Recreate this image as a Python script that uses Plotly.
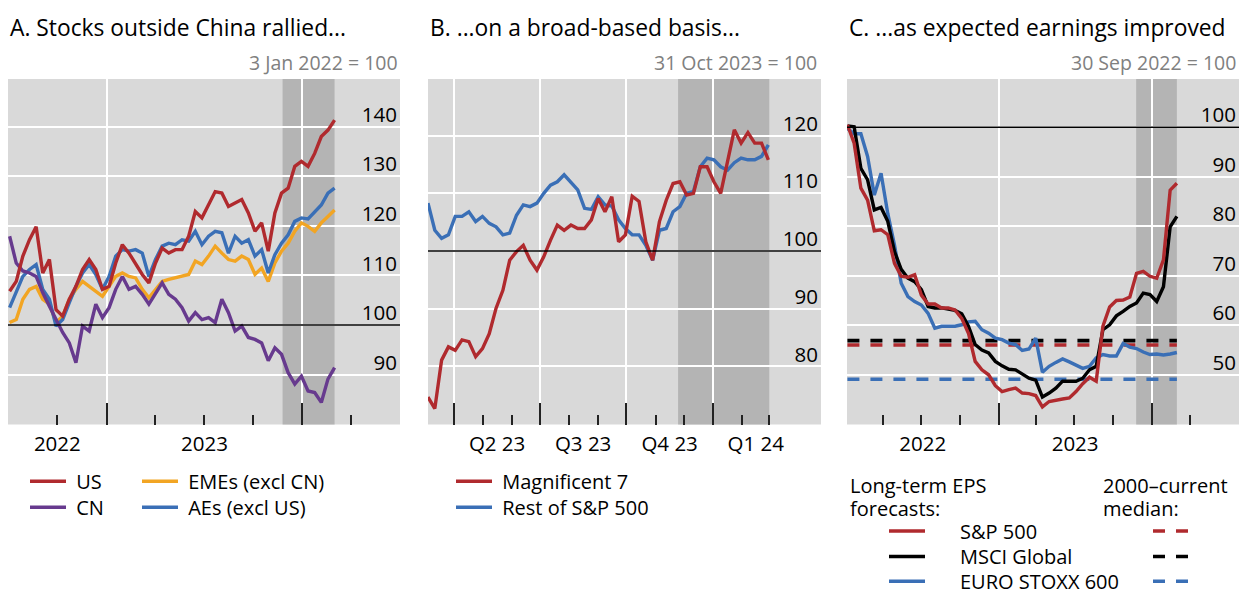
import pandas as pd
import plotly.graph_objects as go

FONT = "Open Sans, Noto Sans, DejaVu Sans, sans-serif"
W, H = 1239, 592

# ---------------- Panel A: equity indices, 3 Jan 2022 = 100 ----------------
A_RANGE = ["2022-07-01", "2024-07-01"]
A_START, A_END = "2022-07-04", "2024-03-01"
A_US = [106.8, 108.8, 113.9, 117.2, 119.8, 110.5, 113.2, 103.1, 101.8, 105.2,
        107.8, 111.2, 113.2, 111.2, 107.2, 107.8, 112.5, 116.2, 114.5, 112.2,
        110.2, 108.5, 112.5, 115.5, 114.5, 115.2, 115.2, 117.9, 122.9, 121.6,
        124.2, 126.9, 126.6, 123.9, 124.6, 125.3, 122.6, 118.9, 120.6, 114.9,
        122.6, 126.6, 127.6, 132.0, 133.0, 132.0, 134.6, 138.0, 139.3, 141.3]
A_CN = [117.9, 112.5, 110.9, 110.5, 109.8, 106.5, 103.8, 101.1, 98.5, 96.4,
        92.4, 99.8, 98.8, 104.2, 101.5, 103.5, 107.2, 109.8, 107.2, 107.8,
        106.2, 104.2, 106.5, 108.5, 106.2, 105.2, 103.5, 100.8, 102.5, 101.1,
        101.5, 100.5, 105.2, 102.5, 98.8, 99.8, 97.5, 97.1, 96.4, 92.8,
        95.4, 94.1, 90.4, 88.1, 89.7, 86.7, 86.4, 84.4, 89.1, 91.4]
A_EME = [100.5, 101.1, 105.2, 107.2, 107.8, 105.2, 104.2, 100.5, 101.8, 105.2,
         107.2, 108.8, 107.8, 106.8, 105.8, 107.8, 109.8, 110.5, 109.8, 109.5,
         107.2, 105.5, 107.2, 108.8, 109.2, 109.5, 109.8, 110.2, 112.9, 112.2,
         113.9, 115.9, 114.5, 113.2, 112.9, 113.9, 113.2, 110.2, 111.5, 108.8,
         112.5, 114.9, 116.5, 118.9, 120.6, 119.9, 118.9, 120.6, 121.9, 123.2]
A_AE = [103.5, 106.8, 109.8, 111.2, 112.2, 107.2, 105.2, 99.8, 101.1, 104.5,
        107.8, 110.5, 112.2, 110.2, 107.2, 109.8, 113.9, 115.2, 114.9, 115.2,
        114.5, 109.8, 113.2, 115.9, 116.5, 116.2, 117.2, 116.9, 118.9, 116.2,
        117.9, 118.9, 118.6, 114.5, 117.9, 116.5, 117.2, 113.9, 115.2, 110.5,
        114.2, 116.5, 118.2, 120.9, 121.6, 121.4, 122.9, 124.2, 126.6, 127.6]
A_MAJOR = ["2023-01-01", "2024-01-01"]
A_MINOR = ["2022-07-01", "2022-10-01", "2023-04-01", "2023-07-01", "2023-10-01", "2024-04-01"]
A_LABELS = ["2022", "2023"]
A_YTICKS = [80, 90, 100, 110, 120, 130, 140]

# ---------------- Panel B: 31 Oct 2023 = 100 ----------------
B_RANGE = ["2023-03-04", "2024-04-25"]
B_START, B_END = "2023-03-04", "2024-02-29"
B_MAG7 = [74.7, 72.7, 81.1, 83.4, 82.8, 84.6, 84.3, 81.7, 83.1, 85.7,
          90.1, 93.2, 98.4, 99.9, 101.0, 98.4, 96.7, 99.0, 101.9, 104.5,
          103.6, 104.5, 103.9, 103.9, 105.4, 109.1, 106.8, 109.4, 101.6, 102.8,
          109.5, 108.6, 101.6, 98.4, 105.1, 108.8, 111.7, 112.0, 109.7, 110.0,
          114.6, 114.6, 112.0, 110.0, 115.5, 121.0, 118.7, 120.5, 118.7, 118.7,
          115.8]
B_REST = [108.3, 103.6, 102.2, 102.8, 106.0, 106.0, 106.8, 105.1, 106.0, 104.8,
          104.2, 102.8, 103.1, 106.2, 108.0, 107.7, 108.3, 110.0, 111.4, 112.0,
          113.2, 112.0, 110.6, 107.4, 107.2, 109.4, 108.0, 107.8, 105.4, 103.9,
          102.8, 102.8, 101.0, 98.4, 103.6, 103.9, 106.8, 107.7, 110.0, 110.3,
          114.6, 116.1, 115.8, 114.6, 114.0, 115.3, 116.1, 115.8, 115.8, 116.4,
          118.4]
B_MAJOR = ["2023-04-01", "2023-07-01", "2023-10-01", "2024-01-01"]
B_MINOR = ["2023-05-01", "2023-06-01", "2023-08-01", "2023-09-01", "2023-11-01",
           "2023-12-01", "2024-02-01", "2024-03-01"]
B_PERIODS = ["2023-04-01", "2023-07-01", "2023-10-01", "2024-01-01", "2024-04-01"]
B_LABELS = ["Q2 23", "Q3 23", "Q4 23", "Q1 24"]
B_YTICKS = [70, 80, 90, 100, 110, 120]

# ---------------- Panel C: long-term EPS forecasts, 30 Sep 2022 = 100 ----------------
C_RANGE = ["2022-01-05", "2024-07-27"]
C_START, C_END = "2022-01-06", "2024-03-01"
C_SP = [100.5, 96.8, 87.7, 85.3, 79.1, 79.3, 78.3, 72.5, 69.9, 69.7,
        70.2, 66.1, 64.3, 64.3, 63.5, 63.5, 63.1, 61.4, 58.4, 52.7,
        51.0, 50.0, 47.8, 46.6, 47.0, 47.3, 46.3, 46.2, 45.8, 43.5,
        44.6, 44.9, 45.1, 45.3, 46.6, 48.2, 49.5, 48.7, 59.8, 63.7,
        65.0, 65.1, 65.7, 70.5, 70.9, 69.9, 69.5, 73.2, 87.3, 88.7]
C_MSCI = [100.3, 100.1, 91.7, 89.4, 83.3, 83.8, 81.0, 74.9, 71.3, 69.5,
          68.8, 67.2, 63.8, 63.5, 63.5, 63.3, 63.0, 62.3, 59.8, 56.1,
          55.0, 54.4, 52.7, 51.8, 51.1, 51.0, 50.2, 49.3, 48.9, 45.5,
          46.3, 47.3, 48.7, 48.7, 48.7, 49.3, 51.0, 51.7, 59.1, 60.1,
          61.9, 62.8, 63.8, 64.5, 66.5, 66.2, 64.8, 67.8, 79.9, 82.0]
C_STOXX = [99.8, 98.7, 98.7, 94.1, 86.3, 90.7, 82.6, 76.2, 68.5, 65.8,
           64.8, 64.1, 62.4, 59.4, 59.8, 59.8, 59.8, 60.1, 60.7, 60.8,
           59.1, 58.4, 57.4, 57.1, 56.4, 56.1, 54.9, 55.2, 57.4, 50.5,
           51.7, 52.5, 53.2, 52.6, 51.9, 51.3, 51.7, 53.4, 54.1, 53.8,
           53.8, 56.3, 55.6, 55.3, 54.6, 54.1, 54.2, 54.0, 54.2, 54.5]
C_NAMES = ["S&P 500", "MSCI Global", "EURO STOXX 600"]
C_MEDIANS = [56.0, 56.9, 49.1]
C_MAJOR = ["2023-01-01", "2024-01-01"]
C_MINOR = ["2022-04-01", "2022-07-01", "2022-10-01", "2023-04-01", "2023-07-01",
           "2023-10-01", "2024-04-01"]
C_LABELS = ["2022", "2023"]
C_YTICKS = [40, 50, 60, 70, 80, 90, 100]
C_HEAD_1 = ["Long-term EPS", "forecasts:"]
C_HEAD_2 = ["2000–current", "median:"]

SHADE = ["2023-11-25", "2024-03-01"]
BASE = 100

TITLES = ["A. Stocks outside China rallied...", "B. ...on a broad-based basis...",
          "C. ...as expected earnings improved"]
SUBTITLES = ["3 Jan 2022 = 100", "31 Oct 2023 = 100", "30 Sep 2022 = 100"]

# ---------------- styling ----------------
RED, PURPLE, ORANGE, BLUE, BLACK = "#b02a2e", "#673a8e", "#f2a523", "#3a6fb6", "#000000"
BG, SHADE_COL = "#d9d9d9", "#b4b4b4"
LW = 3.4
NB = "\u00a0"          # small gap between legend swatch and text
GAP_C = "\u2003\u2002"  # wider gap used in panel C legend

A_DATES = pd.date_range(A_START, A_END, periods=len(A_US))
B_DATES = pd.date_range(B_START, B_END, periods=len(B_MAG7))
C_DATES = pd.date_range(C_START, C_END, periods=len(C_SP))


def mids(bounds):
    ts = [pd.Timestamp(b) for b in bounds]
    return [ts[i] + (ts[i + 1] - ts[i]) / 2 for i in range(len(ts) - 1)]


fig = go.Figure()
legends = {}
leg_count = [0]


def new_legend(x, row_center_y):
    leg_count[0] += 1
    key = "legend" if leg_count[0] == 1 else "legend%d" % leg_count[0]
    legends[key] = dict(x=x / W, y=1 - (row_center_y - 20) / H, xref="container", yref="container",
                        xanchor="left", yanchor="top", orientation="v", visible=True,
                        font=dict(family=FONT, size=20, color="#000"),
                        bgcolor="rgba(0,0,0,0)", tracegroupgap=0, itemwidth=36)
    return key


def line(x, y, name, color, xa, ya, legpos, dash=None, width=LW):
    key = new_legend(*legpos)
    fig.add_trace(go.Scatter(x=x, y=y, name=name, mode="lines", xaxis=xa, yaxis=ya,
                             legend=key, showlegend=True,
                             line=dict(color=color, width=width, dash=dash)))


ROW1, ROW2 = 481.7, 507.7
CROWS = [531.5, 557.0, 581.8]

# Panel A
line(A_DATES, A_EME, NB + "EMEs (excl CN)", ORANGE, "x", "y", (137, ROW1))
line(A_DATES, A_AE, NB + "AEs (excl US)", BLUE, "x", "y", (137, ROW2))
line(A_DATES, A_CN, NB + "CN", PURPLE, "x", "y", (25, ROW2))
line(A_DATES, A_US, NB + "US", RED, "x", "y", (25, ROW1))
# Panel B
line(B_DATES, B_REST, NB + "Rest of S&P 500", BLUE, "x2", "y2", (451, ROW2))
line(B_DATES, B_MAG7, NB + "Magnificent 7", RED, "x2", "y2", (451, ROW1))
# Panel C medians (dashed)
med_x = [C_DATES[0], C_DATES[-1]]
C_COLS = [RED, BLACK, BLUE]
for k in [2, 0, 1]:
    line(med_x, [C_MEDIANS[k]] * 2, " ", C_COLS[k], "x3", "y3", (1148, CROWS[k]),
         dash="12px,11px", width=3.6)
# Panel C forecasts
line(C_DATES, C_STOXX, GAP_C + C_NAMES[2], BLUE, "x3", "y3", (884, CROWS[2]))
line(C_DATES, C_MSCI, GAP_C + C_NAMES[1], BLACK, "x3", "y3", (884, CROWS[1]))
line(C_DATES, C_SP, GAP_C + C_NAMES[0], RED, "x3", "y3", (884, CROWS[0]))

# empty traces so the label (overlay) axes exist
for xa, ya in [("x4", "y"), ("x5", "y2"), ("x6", "y3")]:
    fig.add_trace(go.Scatter(x=[], y=[], xaxis=xa, yaxis=ya, showlegend=False, hoverinfo="skip"))

Y_DOM = [1 - 424.5 / H, 1 - 79 / H]
X_DOMS = [[8 / W, 400 / W], [428 / W, 821 / W], [847 / W, 1.0]]
RANGES = [A_RANGE, B_RANGE, C_RANGE]
MAJORS = [A_MAJOR, B_MAJOR, C_MAJOR]
MINORS = [A_MINOR, B_MINOR, C_MINOR]
YRANGES = [[79.95, 149.6], [69.95, 129.8], [39.95, 109.76]]
YTICKS = [A_YTICKS, B_YTICKS, C_YTICKS]
LABEL_POS = [mids([A_RANGE[0]] + A_MAJOR), mids(B_PERIODS), mids([C_RANGE[0]] + C_MAJOR)]
LABELS = [A_LABELS, B_LABELS, C_LABELS]

tickfont = dict(family=FONT, size=20.5, color="#000000")
layout = dict(width=W, height=H, margin=dict(l=0, r=0, t=0, b=0, autoexpand=False),
              plot_bgcolor=BG, paper_bgcolor="white", font=dict(family=FONT, size=20, color="#000"),
              hovermode=False, showlegend=True)
for i in range(3):
    n = "" if i == 0 else str(i + 1)
    layout["xaxis" + n] = dict(domain=X_DOMS[i], anchor="y" + n, type="date", range=RANGES[i],
                               tickmode="array", tickvals=MAJORS[i], showticklabels=False,
                               ticks="inside", ticklen=22, tickwidth=1.6, tickcolor="#222",
                               showgrid=True, gridcolor="white", gridwidth=1.8,
                               zeroline=False, showline=False,
                               minor=dict(tickmode="array", tickvals=MINORS[i], ticks="inside",
                                          ticklen=10, tickwidth=1.6, tickcolor="#222", showgrid=False))
    layout["xaxis" + str(i + 4)] = dict(overlaying="x" + n, anchor="y" + n, type="date",
                                        range=RANGES[i], tickmode="array", tickvals=LABEL_POS[i],
                                        ticktext=LABELS[i], ticks="", showgrid=False, zeroline=False,
                                        showline=False, tickfont=tickfont, side="bottom",
                                        ticklabelstandoff=5)
    layout["yaxis" + n] = dict(domain=Y_DOM, anchor="x" + n, side="right", range=YRANGES[i],
                               tickmode="array", tickvals=YTICKS[i], ticklabelposition="inside",
                               ticks="", showgrid=True, gridcolor="white", gridwidth=1.8,
                               zeroline=False, showline=False, tickfont=tickfont,
                               ticklabelshift=-12)

shapes = []
for i in range(3):
    n = "" if i == 0 else str(i + 1)
    shapes.append(dict(type="rect", xref="x" + n, yref="y" + n + " domain", x0=SHADE[0], x1=SHADE[1],
                       y0=0, y1=1, fillcolor=SHADE_COL, line=dict(width=0), layer="below"))
for i in range(3):
    n = "" if i == 0 else str(i + 1)
    shapes.append(dict(type="line", xref="x" + n + " domain", yref="y" + n, x0=0, x1=1,
                       y0=BASE, y1=BASE, line=dict(color="black", width=1.5), layer="above"))
layout["shapes"] = shapes

ann = []
TITLE_X = [8, 428, 847]
SUB_X = [400, 819, 1238]
for i in range(3):
    ann.append(dict(text=TITLES[i], x=TITLE_X[i] / W, y=1 - 27 / H, xref="paper", yref="paper",
                    xanchor="left", yanchor="middle", showarrow=False,
                    font=dict(family=FONT, size=22.8, color="#000")))
    ann.append(dict(text=SUBTITLES[i], x=SUB_X[i] / W, y=1 - 63 / H, xref="paper", yref="paper",
                    xanchor="right", yanchor="middle", showarrow=False,
                    font=dict(family=FONT, size=19.5, color="#808080")))
for lines_, xx in [(C_HEAD_1, 848), (C_HEAD_2, 1101)]:
    for j, txt in enumerate(lines_):
        ann.append(dict(text=txt, x=xx / W, y=1 - (485 + 23 * j) / H, xref="paper", yref="paper",
                        xanchor="left", yanchor="middle", align="left", showarrow=False,
                        font=dict(family=FONT, size=20, color="#000")))
layout["annotations"] = ann
layout.update(legends)

fig.update_layout(**layout)
fig.write_html("out.html", post_script="document.body.style.margin='0';",
               config={"displayModeBar": False})
